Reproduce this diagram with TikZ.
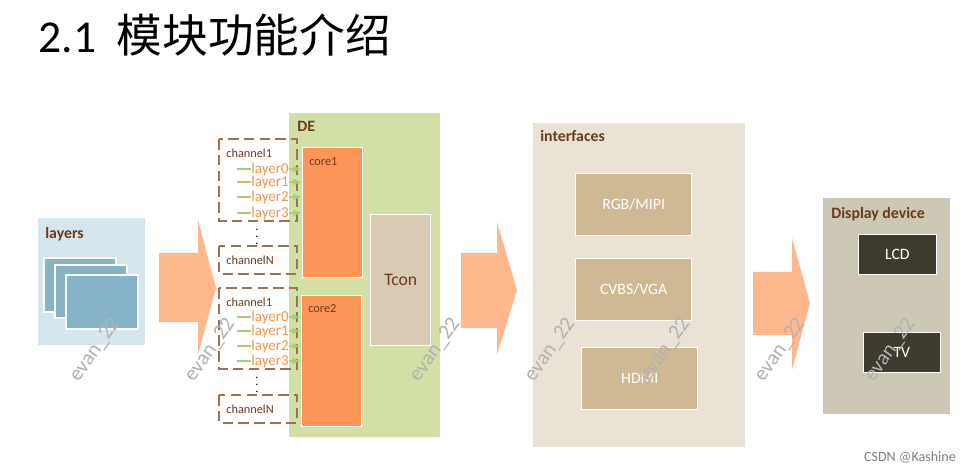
\documentclass[tikz,border=0pt]{standalone}
\usepackage{fontspec}
\setmainfont{Carlito}
\newfontfamily\cjk{Noto Sans CJK SC}
\definecolor{arr}{HTML}{FDB88E}
\definecolor{deg}{HTML}{D3E0A5}
\definecolor{coreo}{HTML}{FE9558}
\definecolor{lbg}{HTML}{D6E6EE}
\definecolor{lfg}{HTML}{86B3C8}
\definecolor{ifg}{HTML}{EAE3D5}
\definecolor{ibx}{HTML}{CFB994}
\definecolor{tcn}{HTML}{D8CAB3}
\definecolor{dbg}{HTML}{CCC8B5}
\definecolor{dbx}{HTML}{3E3B2E}
\definecolor{brn}{HTML}{6B3A1B}
\definecolor{dsh}{HTML}{9A7458}
\definecolor{grn}{HTML}{A8CF6E}
\definecolor{lyo}{HTML}{F7964A}
\begin{document}
\begin{tikzpicture}[x=0.02cm,y=-0.02cm,
  lbl/.style={font=\bfseries\fontsize{9}{10}\selectfont,text=brn,anchor=north west,inner sep=0},
  blk/.style={draw=white,line width=0.8pt},
  dash box/.style={draw=dsh,dash pattern=on 6pt off 3pt,line width=0.8pt},
  sm/.style={font=\fontsize{7}{8}\selectfont,text=brn,anchor=west,inner sep=0},
  lay/.style={font=\fontsize{8.6}{9}\selectfont,text=lyo,anchor=west,inner sep=0},
  gl/.style={draw=grn,line width=0.7pt},
  ga/.style={draw=grn,line width=0.7pt,-latex},
  bigarrow/.style={fill=arr,draw=none},
  wm/.style={font=\fontsize{12}{13}\selectfont,text=gray!60,rotate=55}]
\useasboundingbox (0,0) rectangle (978,472);
\fill[white] (0,0) rectangle (978,472);
\node[anchor=west,inner sep=0,font=\fontsize{26}{28}\selectfont] (title) at (38,35) {2.1\ \ {\cjk 模块功能介绍}};
% layers
\fill[lbg] (38,218) rectangle (145,345);
\node[lbl] (lt) at (45,227) {layers};
\foreach \a/\b/\c/\d in {44/258/116/312,55/265/127/318,66/275/138/329}
  \draw[blk,fill=lfg] (\a,\b) rectangle (\c,\d);
% arrow 1
\fill[bigarrow] (159,253) -- (198,253) -- (198,220) -- (216,288) -- (198,355) -- (198,322) -- (159,322) -- cycle;
% DE
\fill[deg] (289,113) rectangle (440,437);
\node[lbl] (de) at (297,121) {DE};
\node[blk,fill=coreo,minimum width=60*0.02cm,minimum height=130*0.02cm,inner sep=0,anchor=north west] (core1) at (302,147) {};
\node[sm] at (309,162) {core1};
\node[blk,fill=coreo,minimum width=60*0.02cm,minimum height=131*0.02cm,inner sep=0,anchor=north west] (core2) at (301,295) {};
\node[sm] at (308,309) {core2};
\node[blk,fill=tcn,minimum width=60*0.02cm,minimum height=131*0.02cm,inner sep=0,anchor=north west,font=\fontsize{10}{11}\selectfont,text=brn] (tcon) at (370,214) {Tcon};
% channel groups
\foreach \yy/\cy/\ya/\yb/\yc/\yd/\dy/\nt/\nb/\core in {139/153/169/182/197/213/232/246/274/core1, 288/302/317/331/346/361/380/395/423/core2}{
  \draw[dash box] (219,\yy) rectangle (297,\yd+8);
  \node[sm] at (226,\cy) {channel1};
  \foreach \ly/\n in {\ya/0,\yb/1,\yc/2,\yd/3}{
    \node[lay] (L\n) at (251,\ly) {layer\n};
    \draw[gl] (237,\ly) -- (L\n.west);
    \draw[ga] (L\n.east) -- (\core.west |- L\n.east);
  }
  \node[font=\fontsize{7}{7}\selectfont] at (257,\dy) {$\vdots$};
  \draw[dash box] (219,\nt) rectangle (297,\nb);
  \node[sm] at (226,\nt/2+\nb/2) {channelN};
}
% arrow 2
\fill[bigarrow] (461,253) -- (497,253) -- (497,222) -- (517,290) -- (497,355) -- (497,328) -- (461,328) -- cycle;
% interfaces
\fill[ifg] (533,123) rectangle (745,447);
\node[lbl] (if) at (540,130) {interfaces};
\foreach \x/\y/\t/\n in {575/173/RGB\slash MIPI/rgb,575/258/CVBS\slash VGA/cvbs,581/347/HDMI/hdmi}
  \node[blk,fill=ibx,minimum width=116*0.02cm,minimum height=62*0.02cm,inner sep=0,anchor=north west,font=\fontsize{9}{10}\selectfont,text=white] (\n) at (\x,\y) {\t};
% arrow 3
\fill[bigarrow] (753,272) -- (792,272) -- (792,238) -- (810,303) -- (792,370) -- (792,335) -- (753,335) -- cycle;
% display
\fill[dbg] (823,198) rectangle (950,414);
\node[lbl] (dd) at (831,207) {Display device};
\node[draw=white,fill=dbx,minimum width=78*0.02cm,minimum height=40*0.02cm,inner sep=0,anchor=north west,font=\fontsize{9}{10}\selectfont,text=white] (lcd) at (858,234) {LCD};
\node[draw=white,fill=dbx,minimum width=77*0.02cm,minimum height=40*0.02cm,inner sep=0,anchor=north west,font=\fontsize{9}{10}\selectfont,text=white] (tv) at (863,332) {TV};
% watermarks
\foreach \x/\y in {95/350,210/350,435/350,550/350,665/350,780/350,890/350}
  \node[wm] at (\x,\y) {evan\_22};
\node[anchor=east,font=\fontsize{8}{9}\selectfont,text=gray] (csdn) at (962,457) {CSDN @Kashine};
\end{tikzpicture}
\end{document}
